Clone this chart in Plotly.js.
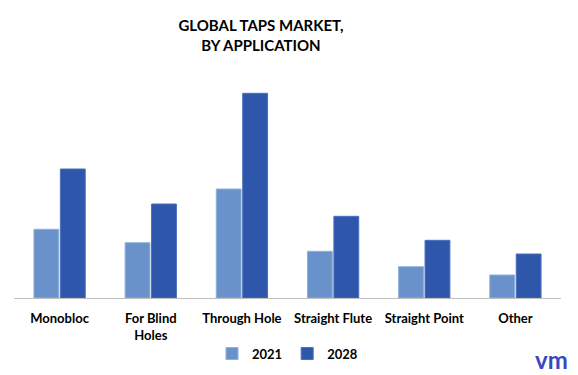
<!DOCTYPE html>
<html>
<head>
<meta charset="utf-8">
<script src="https://cdn.plot.ly/plotly-3.0.1.min.js"></script>
<style>html,body{margin:0;padding:0;background:#fff;}#chart{width:578px;height:375px;}</style>
</head>
<body>
<div id="chart"></div>
<script>
const categories = ["Monobloc", "For Blind<br>Holes", "Through Hole", "Straight Flute", "Straight Point", "Other"];
const values2021 = [68.7, 55.3, 109, 46.7, 31.3, 23];
const values2028 = [129, 94, 204.7, 81.7, 57.7, 44];
const seriesNames = ["2021", "2028"];

const FONT = "Lato, 'Open Sans', sans-serif";

const traces = [
  {type: "bar", name: seriesNames[0], x: categories, y: values2021,
   marker: {color: "#6892c9", line: {color: "#8fb0dc", width: 1}}, hoverinfo: "skip"},
  {type: "bar", name: seriesNames[1], x: categories, y: values2028,
   marker: {color: "#2e56ab", line: {color: "#4b6fbd", width: 1}}, hoverinfo: "skip"}
];

const layout = {
  width: 578, height: 375,
  margin: {l: 14, r: 17, t: 80, b: 77, autoexpand: false},
  paper_bgcolor: "#fff", plot_bgcolor: "#fff",
  font: {family: FONT, color: "#000"},
  title: {text: "<b>GLOBAL TAPS MARKET,<br>BY APPLICATION</b>", font: {family: FONT, size: 15, color: "#000"},
          x: 261/578, xref: "container", xanchor: "center", y: 1 - 31/375, yref: "container", yanchor: "middle"},
  barmode: "group", bargap: 0.42, bargroupgap: 0.06,
  xaxis: {showline: true, linecolor: "#bfbfbf", linewidth: 1, ticks: "", showgrid: false, zeroline: false,
          automargin: false, ticklabelstandoff: 8,
          tickfont: {family: FONT, size: 13, color: "#000", weight: "bold"}, fixedrange: true},
  yaxis: {range: [0, 218], visible: false, showgrid: false, zeroline: false, fixedrange: true, automargin: false},
  showlegend: true,
  legend: {orientation: "h", x: 0.5, xanchor: "center", y: -0.255, yanchor: "middle",
           font: {family: FONT, size: 13, color: "#000", weight: "bold"}, itemwidth: 30, tracegroupgap: 0},
  annotations: [
    {text: "<b>vm</b>", xref: "paper", yref: "paper", x: 1.016, y: -0.28, xanchor: "right", yanchor: "middle",
     showarrow: false, font: {family: FONT, size: 24, color: "#3a48c4"}}
  ]
};

Plotly.newPlot("chart", traces, layout, {displayModeBar: false, staticPlot: true});
</script>
</body>
</html>
